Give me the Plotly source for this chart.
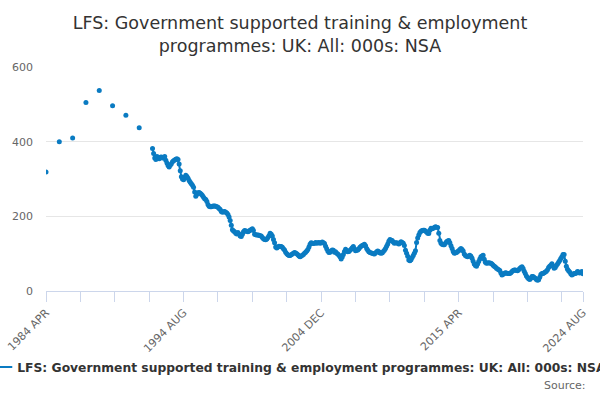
import plotly.graph_objects as go

# ---- data -------------------------------------------------------------
title_text = "LFS: Government supported training & employment<br>programmes: UK: All: 000s: NSA"
series_name = "LFS: Government supported training & employment programmes: UK: All: 000s: NSA"

month_names = ["JAN", "FEB", "MAR", "APR", "MAY", "JUN", "JUL", "AUG", "SEP", "OCT", "NOV", "DEC"]
start_year, start_month = 1984, 4   # first category 1984 APR
end_year, end_month = 2024, 8       # last category 2024 AUG

# Annual spring values 1984-1991 (APR)
annual_years = [1984, 1985, 1986, 1987, 1988, 1989, 1990, 1991]
annual_values = [319, 400, 410, 505, 537, 496, 471, 437]

# Monthly values from 1992 APR to 2024 AUG (12 per row, APR..MAR)
monthly_values = [
    382, 368, 356, 352, 360, 358, 354, 358, 359, 356, 357, 360,   # 1992
    350, 343, 336, 332, 337, 341, 346, 349, 351, 353, 354, 352,   # 1993
    340, 322, 306, 300, 298, 305, 310, 307, 302, 296, 291, 287,   # 1994
    283, 278, 265, 254, 259, 263, 264, 262, 259, 256, 251, 247,   # 1995
    245, 240, 232, 227, 226, 226, 227, 228, 228, 227, 226, 224,   # 1996
    221, 218, 213, 211, 212, 213, 211, 209, 205, 198, 189, 176,   # 1997
    164, 161, 159, 155, 153, 157, 153, 147, 146, 152, 159, 162,   # 1998
    161, 160, 159, 161, 163, 165, 167, 162, 152, 151, 150, 150,   # 1999
    149, 148, 147, 143, 140, 138, 137, 139, 143, 148, 155, 152,   # 2000
    147, 138, 129, 118, 115, 118, 120, 119, 119, 117, 113, 110,   # 2001
    104, 100, 97, 95, 95, 97, 99, 101, 103, 102, 100, 97,         # 2002
    94, 92, 94, 96, 98, 101, 104, 107, 111, 118, 125, 129,        # 2003
    128, 127, 128, 130, 128, 129, 130, 128, 129, 131, 129, 127,   # 2004
    120, 113, 107, 103, 104, 107, 110, 109, 104, 105, 101, 99,    # 2005
    96, 92, 86, 91, 98, 106, 112, 108, 105, 106, 109, 112,        # 2006
    116, 119, 113, 108, 109, 110, 113, 117, 120, 122, 123, 125,   # 2007
    121, 114, 109, 105, 103, 102, 101, 100, 99, 102, 105, 107,    # 2008
    105, 102, 101, 102, 106, 109, 114, 120, 126, 133, 138, 136,   # 2009
    135, 131, 128, 129, 129, 128, 126, 129, 132, 130, 128, 122,   # 2010
    109, 101, 93, 83, 81, 84, 90, 95, 101, 108, 130, 142,         # 2011
    150, 157, 160, 162, 163, 163, 161, 158, 155, 154, 163, 168,   # 2012
    167, 168, 170, 172, 171, 170, 155, 135, 128, 125, 124, 124,   # 2013
    128, 132, 134, 135, 129, 121, 114, 106, 101, 102, 103, 106,   # 2014
    108, 111, 114, 111, 107, 99, 95, 93, 92, 94, 96, 93,          # 2015
    88, 80, 72, 68, 66, 72, 79, 86, 92, 94, 96, 85,               # 2016
    77, 74, 75, 76, 75, 74, 72, 69, 66, 64, 61, 59,               # 2017
    57, 55, 48, 43, 45, 47, 49, 48, 47, 47, 47, 49,               # 2018
    52, 55, 56, 56, 55, 54, 57, 60, 63, 65, 60, 53,               # 2019
    47, 40, 36, 33, 31, 34, 39, 39, 36, 34, 31, 29,               # 2020
    30, 37, 44, 47, 47, 49, 51, 53, 57, 63, 66, 69,               # 2021
    73, 67, 61, 63, 68, 72, 77, 82, 87, 92, 98, 98,               # 2022
    80, 66, 58, 54, 51, 46, 43, 45, 47, 47, 48, 52,               # 2023
    51, 48, 50, 52, 46,                                           # 2024
]
monthly_start = "1992 APR"

tick_labels = ["1984 APR", "1994 AUG", "2004 DEC", "2015 APR", "2024 AUG"]
y_ticks = [0, 200, 400, 600]

# ---- build categories -------------------------------------------------
categories = []
y, m = start_year, start_month
while (y, m) <= (end_year, end_month):
    categories.append(f"{y} {month_names[m - 1]}")
    m += 1
    if m > 12:
        m, y = 1, y + 1

values = [None] * len(categories)
for yr, v in zip(annual_years, annual_values):
    values[categories.index(f"{yr} APR")] = v
i0 = categories.index(monthly_start)
for k, v in enumerate(monthly_values):
    values[i0 + k] = v

# tick marks every 31 categories plus the last, labels only on tick_labels
tick_idx = list(range(0, len(categories), 31))
if tick_idx[-1] != len(categories) - 1:
    tick_idx.append(len(categories) - 1)
tickvals = [categories[i] for i in tick_idx]
ticktext = [c if c in tick_labels else "" for c in tickvals]

color = "#0a7bc2"

fig = go.Figure()
fig.add_trace(go.Scatter(
    x=categories, y=values, mode="lines+markers",
    name="<b>" + series_name + "</b>",
    line=dict(color=color, width=2), marker=dict(color=color, size=5),
    connectgaps=False, showlegend=True,
))

fig.update_layout(
    width=600, height=400,
    margin=dict(l=46, r=17, t=67, b=109, autoexpand=False),
    paper_bgcolor="white", plot_bgcolor="white",
    font=dict(family="DejaVu Sans", color="#333333"),
    title=dict(text=title_text, x=0.5, xanchor="center", xref="container",
               y=0.928, yref="container", yanchor="top",
               font=dict(size=17.5, color="#333333")),
    showlegend=True,
    legend=dict(orientation="h", x=-0.128, xanchor="left", y=-(367 - 291) / 224,
                yanchor="middle", yref="paper",
                font=dict(size=12.3, color="#333333", family="DejaVu Sans"),
                bgcolor="rgba(0,0,0,0)"),
)

fig.update_xaxes(
    type="category", categoryorder="array", categoryarray=categories,
    range=[0, len(categories) - 1],
    tickmode="array", tickvals=tickvals, ticktext=ticktext, tickangle=-45,
    ticks="outside", ticklen=10, tickcolor="#ccd6eb", tickwidth=1,
    showline=True, linecolor="#ccd6eb", linewidth=1,
    showgrid=False, zeroline=False,
    tickfont=dict(size=11, color="#666666", family="DejaVu Sans"),
)
fig.update_yaxes(
    range=[0, 600], tickmode="array", tickvals=y_ticks,
    showgrid=True, gridcolor="#e6e6e6", gridwidth=1,
    zeroline=False, showline=False, ticks="",
    ticklabelstandoff=12,
    tickfont=dict(size=11, color="#666666", family="DejaVu Sans"),
)

fig.add_annotation(text="Source:", xref="paper", yref="paper",
                   x=(588 - 46) / 537, xanchor="right",
                   y=-(385 - 291) / 224, yanchor="middle",
                   showarrow=False, font=dict(size=11, color="#666666", family="DejaVu Sans"))

fig.write_html("out.html")
